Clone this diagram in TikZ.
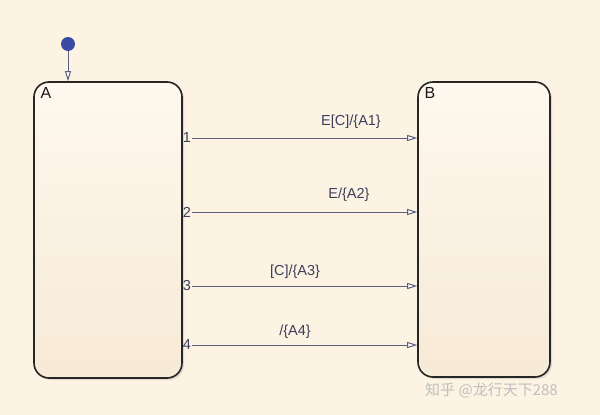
\documentclass[tikz,border=0pt]{standalone}
\usepackage{fontspec}
\setmainfont{Liberation Sans}
\newfontfamily\cjkfont{Noto Sans CJK SC}
\usetikzlibrary{arrows.meta,shadows}
\definecolor{bgcol}{HTML}{FDF3E3}
\definecolor{statetop}{HTML}{FEF8EE}
\definecolor{statebot}{HTML}{F7EAD6}
\definecolor{edgecol}{HTML}{5C6080}
\definecolor{dotcol}{HTML}{3A4BA6}
\definecolor{txtcol}{HTML}{3A3F5C}
\begin{document}
\begin{tikzpicture}[x=1pt,y=-1pt,
  statebox/.style={draw=black!85, line width=1.6pt, rounded corners=15pt,
    top color=statetop, bottom color=statebot,
    drop shadow={opacity=0.22, shadow xshift=2pt, shadow yshift=-2pt},
    inner sep=0pt},
  statelbl/.style={font=\fontsize{16}{16}\selectfont, text=black!90, anchor=center},
  trans/.style={draw=edgecol, line width=1pt,
    -{Triangle[open, length=10pt, width=6pt, fill=white]}},
  numlbl/.style={font=\fontsize{14.5}{14.5}\selectfont, text=txtcol, inner sep=1pt},
  evlbl/.style={font=\fontsize{14.5}{14.5}\selectfont, text=txtcol, inner sep=0pt}]
\useasboundingbox (0,0) rectangle (600,415);
\fill[bgcol] (0,0) rectangle (600,415);

\node[statebox, minimum width=148pt, minimum height=296pt] (A) at (108,230) {};
\node[statebox, minimum width=132pt, minimum height=295pt] (B) at (484,229.5) {};
\node[statelbl] (Alab) at (46,93) {A};
\node[statelbl] (Blab) at (430,93) {B};

\node[circle, fill=dotcol, minimum size=14pt, inner sep=0pt] (init) at (68,44) {};
\draw[trans] (init.south) -- (init.south |- A.north);

\node[numlbl] (n1) at (187,138) {1};
\node[numlbl] (n2) at (187,212) {2};
\node[numlbl] (n3) at (187,286) {3};
\node[numlbl] (n4) at (187,345) {4};

\draw[trans] (n1.east) -- (B.west |- n1.east);
\draw[trans] (n2.east) -- (B.west |- n2.east);
\draw[trans] (n3.east) -- (B.west |- n3.east);
\draw[trans] (n4.east) -- (B.west |- n4.east);

\node[evlbl] (e1) at (351,122) {E[C]/\{A1\}};
\node[evlbl] (e2) at (349,195) {E/\{A2\}};
\node[evlbl] (e3) at (295,272) {[C]/\{A3\}};
\node[evlbl] (e4) at (295,332) {/\{A4\}};

\node[font=\cjkfont\fontsize{15}{15}\selectfont, text=black!25, anchor=west, inner sep=0pt] (wm) at (425,390) {知乎 @龙行天下288};
\end{tikzpicture}
\end{document}
